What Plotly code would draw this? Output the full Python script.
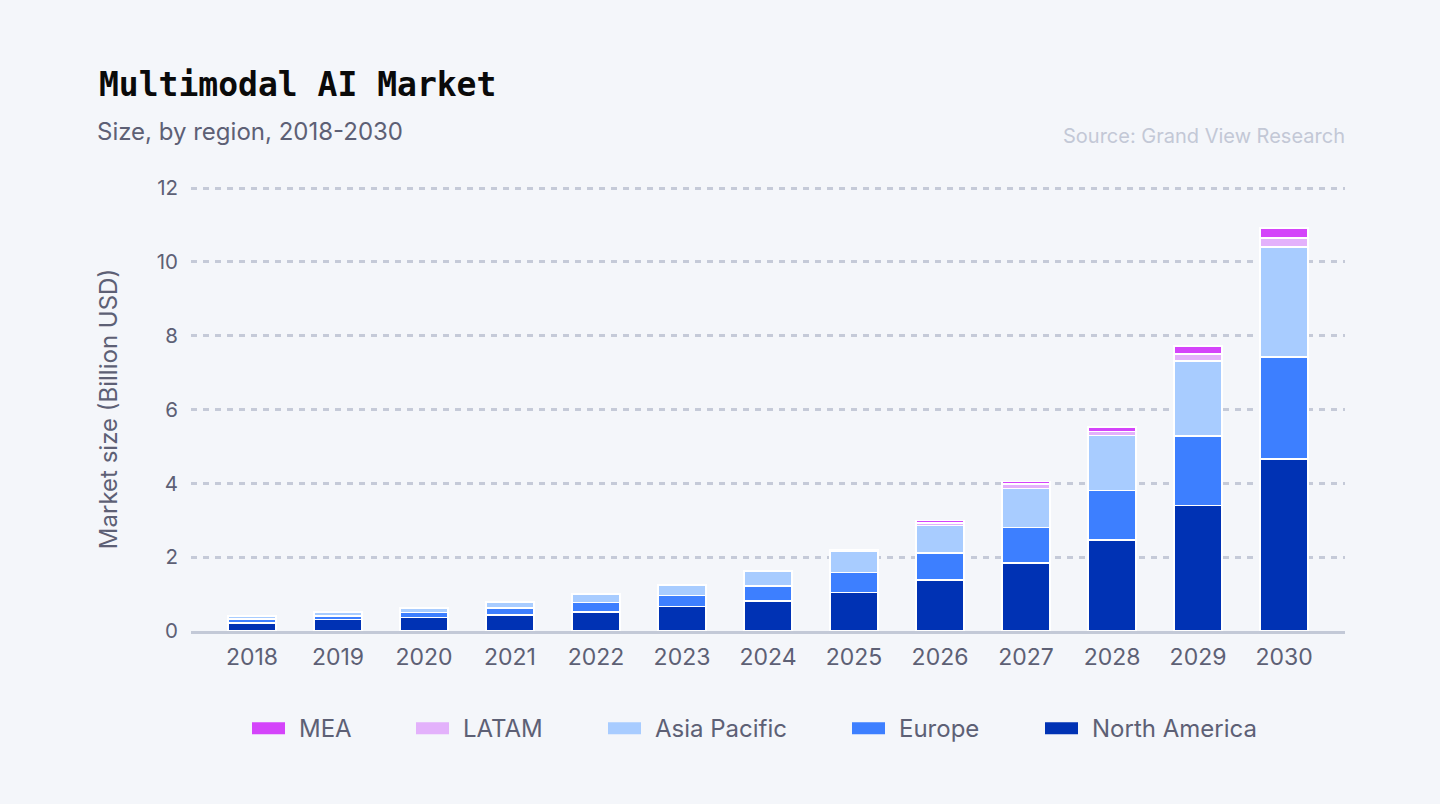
import plotly.graph_objects as go

# market size by region, billion USD
years = ['2018', '2019', '2020', '2021', '2022', '2023', '2024',
         '2025', '2026', '2027', '2028', '2029', '2030']
north_america = [0.22, 0.31, 0.36, 0.44, 0.52, 0.66, 0.81, 1.05, 1.38, 1.84, 2.46, 3.40, 4.66]
europe = [0.11, 0.10, 0.14, 0.19, 0.25, 0.30, 0.41, 0.54, 0.73, 0.97, 1.35, 1.88, 2.76]
asia_pacific = [0.08, 0.10, 0.12, 0.16, 0.23, 0.29, 0.39, 0.57, 0.75, 1.05, 1.49, 2.04, 2.99]
latam = [0.01, 0.01, 0.01, 0.01, 0.01, 0.01, 0.02, 0.04, 0.06, 0.12, 0.11, 0.19, 0.24]
mea = [0.00, 0.00, 0.00, 0.00, 0.00, 0.00, 0.00, 0.01, 0.07, 0.07, 0.12, 0.21, 0.27]

y_ticks = [0, 2, 4, 6, 8, 10, 12]

# colours
c_na = '#0032b4'
c_eu = '#3d7fff'
c_ap = '#a8ccff'
c_latam = '#e3b1fb'
c_mea = '#d444fa'
bg = '#f4f6fa'
grey_text = '#5d6075'
grid_col = '#c5cad8'

font_fam = 'Inter, Roboto, sans-serif'

series = [
    ('North America', north_america, c_na),
    ('Europe', europe, c_eu),
    ('Asia Pacific', asia_pacific, c_ap),
    ('LATAM', latam, c_latam),
    ('MEA', mea, c_mea),
]

fig = go.Figure()
for name, vals, col in series:
    fig.add_trace(go.Bar(
        name=name, x=years, y=vals,
        marker=dict(color=col, line=dict(color='white', width=1.5)),
        showlegend=False,
    ))

# plot area in pixels, used to place the hand-made legend
L, R, T, B = 191, 1345, 188, 631
W, H = R - L, B - T

def px_x(p):
    return (p - L) / W

def px_y(p):
    return (B - p) / H

# legend: swatch left edge for each entry (MEA first, like the original)
legend_left = [252, 416, 608, 852, 1045]
for (name, vals, col), left in zip(reversed(series), legend_left):
    fig.add_shape(
        type='rect', xref='paper', yref='paper',
        x0=px_x(left), x1=px_x(left + 33), y0=px_y(734), y1=px_y(722),
        fillcolor=col, line=dict(width=0),
    )
    fig.add_annotation(
        text=name, xref='paper', yref='paper',
        x=px_x(left + 45), y=px_y(728), xanchor='left', yanchor='middle',
        showarrow=False, font=dict(size=24, color=grey_text),
    )

fig.update_layout(
    width=1440, height=804,
    paper_bgcolor=bg, plot_bgcolor=bg,
    barmode='stack', bargap=0.44,
    margin=dict(l=L, r=1440 - R, t=T - 1, b=804 - B),
    font=dict(family=font_fam, color=grey_text),
    showlegend=False,
    xaxis=dict(
        type='category',
        range=[-0.709, 12.709],
        showgrid=False, zeroline=False,
        showline=True, linecolor='#c3c9d7', linewidth=3,
        tickfont=dict(size=23, color=grey_text),
        ticks='', ticklabelstandoff=3,
    ),
    yaxis=dict(
        range=[0, 12.03], tickvals=y_ticks,
        showgrid=True, gridcolor=grid_col, gridwidth=2.5, griddash='6px,6px',
        zeroline=False, showline=False,
        tickfont=dict(size=20.5, color=grey_text),
        ticklabelstandoff=12,
        title=dict(text='Market size (Billion USD)', font=dict(size=24, color=grey_text), standoff=32),
    ),
)

fig.add_annotation(
    text='<b>Multimodal AI Market</b>', xref='paper', yref='paper',
    x=0, y=1, xanchor='left', yanchor='middle', showarrow=False,
    font=dict(family='DejaVu Sans Mono', size=33, color='#0a0a0a'),
    xshift=-94, yshift=103,
)
fig.add_annotation(
    text='Size, by region, 2018-2030', xref='paper', yref='paper',
    x=0, y=1, xanchor='left', yanchor='middle', showarrow=False,
    font=dict(size=24, color=grey_text),
    xshift=-96, yshift=56,
)
fig.add_annotation(
    text='Source: Grand View Research', xref='paper', yref='paper',
    x=1, y=1, xanchor='right', yanchor='middle', showarrow=False,
    font=dict(size=20, color='#c3c8d6'),
    xshift=2, yshift=51,
)

fig.write_html('out.html', config={'displayModeBar': False},
               post_script="document.body.style.margin='0';")
